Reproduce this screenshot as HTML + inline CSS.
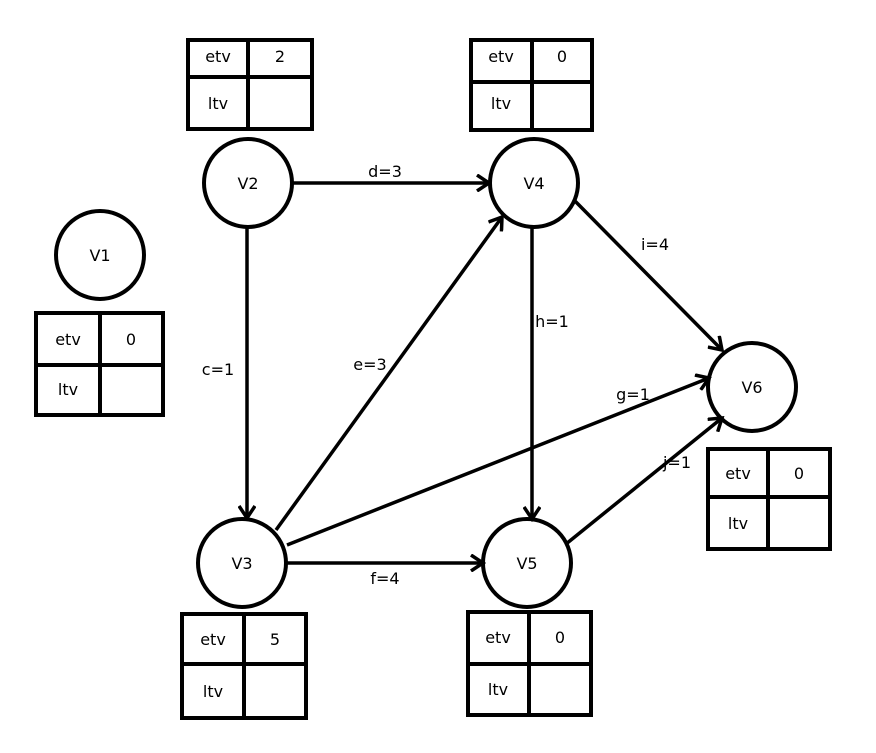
<!DOCTYPE html>
<html><head><style>body{margin:0;background:#fff}</style></head><body>
<svg width="876" height="748" xmlns="http://www.w3.org/2000/svg" font-family="DejaVu Sans, Liberation Sans, sans-serif" font-size="16">
<defs><marker id="a" markerWidth="16" markerHeight="18" refX="13" refY="9" orient="auto" markerUnits="userSpaceOnUse"><path d="M1,1 L13,9 L1,17" fill="none" stroke="#000" stroke-width="3.5"/></marker></defs>
<g stroke="#000" stroke-width="4" fill="none">
<circle cx="248" cy="183" r="44"/><circle cx="534" cy="183" r="44"/><circle cx="100" cy="255" r="44"/>
<circle cx="242" cy="563" r="44"/><circle cx="527" cy="563" r="44"/><circle cx="752" cy="387" r="44"/>
<g stroke-width="3.5">
<line x1="292" y1="183" x2="489" y2="183" marker-end="url(#a)"/>
<line x1="247" y1="227" x2="247" y2="518" marker-end="url(#a)"/>
<line x1="276" y1="530" x2="502" y2="217" marker-end="url(#a)"/>
<line x1="287" y1="545" x2="709" y2="378" marker-end="url(#a)"/>
<line x1="286" y1="563" x2="483" y2="563" marker-end="url(#a)"/>
<line x1="532" y1="227" x2="532" y2="519" marker-end="url(#a)"/>
<line x1="574" y1="200" x2="722" y2="350" marker-end="url(#a)"/>
<line x1="566" y1="544" x2="722" y2="418" marker-end="url(#a)"/>
</g>
<g>
<rect x="188" y="40" width="124" height="89"/><line x1="188" y1="77" x2="312" y2="77"/><line x1="248" y1="40" x2="248" y2="129"/>
<rect x="471" y="40" width="121" height="90"/><line x1="471" y1="82" x2="592" y2="82"/><line x1="532" y1="40" x2="532" y2="130"/>
<rect x="36" y="313" width="127" height="102"/><line x1="36" y1="365" x2="163" y2="365"/><line x1="100" y1="313" x2="100" y2="415"/>
<rect x="182" y="614" width="124" height="104"/><line x1="182" y1="664" x2="306" y2="664"/><line x1="244" y1="614" x2="244" y2="718"/>
<rect x="468" y="612" width="123" height="103"/><line x1="468" y1="664" x2="591" y2="664"/><line x1="529" y1="612" x2="529" y2="715"/>
<rect x="708" y="449" width="122" height="100"/><line x1="708" y1="497" x2="830" y2="497"/><line x1="768" y1="449" x2="768" y2="549"/>
</g></g>
<g fill="#000" text-anchor="middle">
<text x="248" y="189">V2</text><text x="534" y="189">V4</text><text x="100" y="261">V1</text>
<text x="242" y="569">V3</text><text x="527" y="569">V5</text><text x="752" y="393">V6</text>
<text x="218" y="62">etv</text><text x="280" y="62">2</text><text x="218" y="109">ltv</text>
<text x="501" y="62">etv</text><text x="562" y="62">0</text><text x="501" y="109">ltv</text>
<text x="68" y="345">etv</text><text x="131" y="345">0</text><text x="68" y="395">ltv</text>
<text x="213" y="645">etv</text><text x="275" y="645">5</text><text x="213" y="697">ltv</text>
<text x="498" y="643">etv</text><text x="560" y="643">0</text><text x="498" y="695">ltv</text>
<text x="738" y="479">etv</text><text x="799" y="479">0</text><text x="738" y="529">ltv</text>
<text x="385" y="177">d=3</text><text x="218" y="375">c=1</text><text x="370" y="370">e=3</text>
<text x="552" y="327">h=1</text><text x="655" y="250">i=4</text><text x="633" y="400">g=1</text>
<text x="385" y="584">f=4</text><text x="677" y="468">j=1</text>
</g>
</svg>
</body></html>
